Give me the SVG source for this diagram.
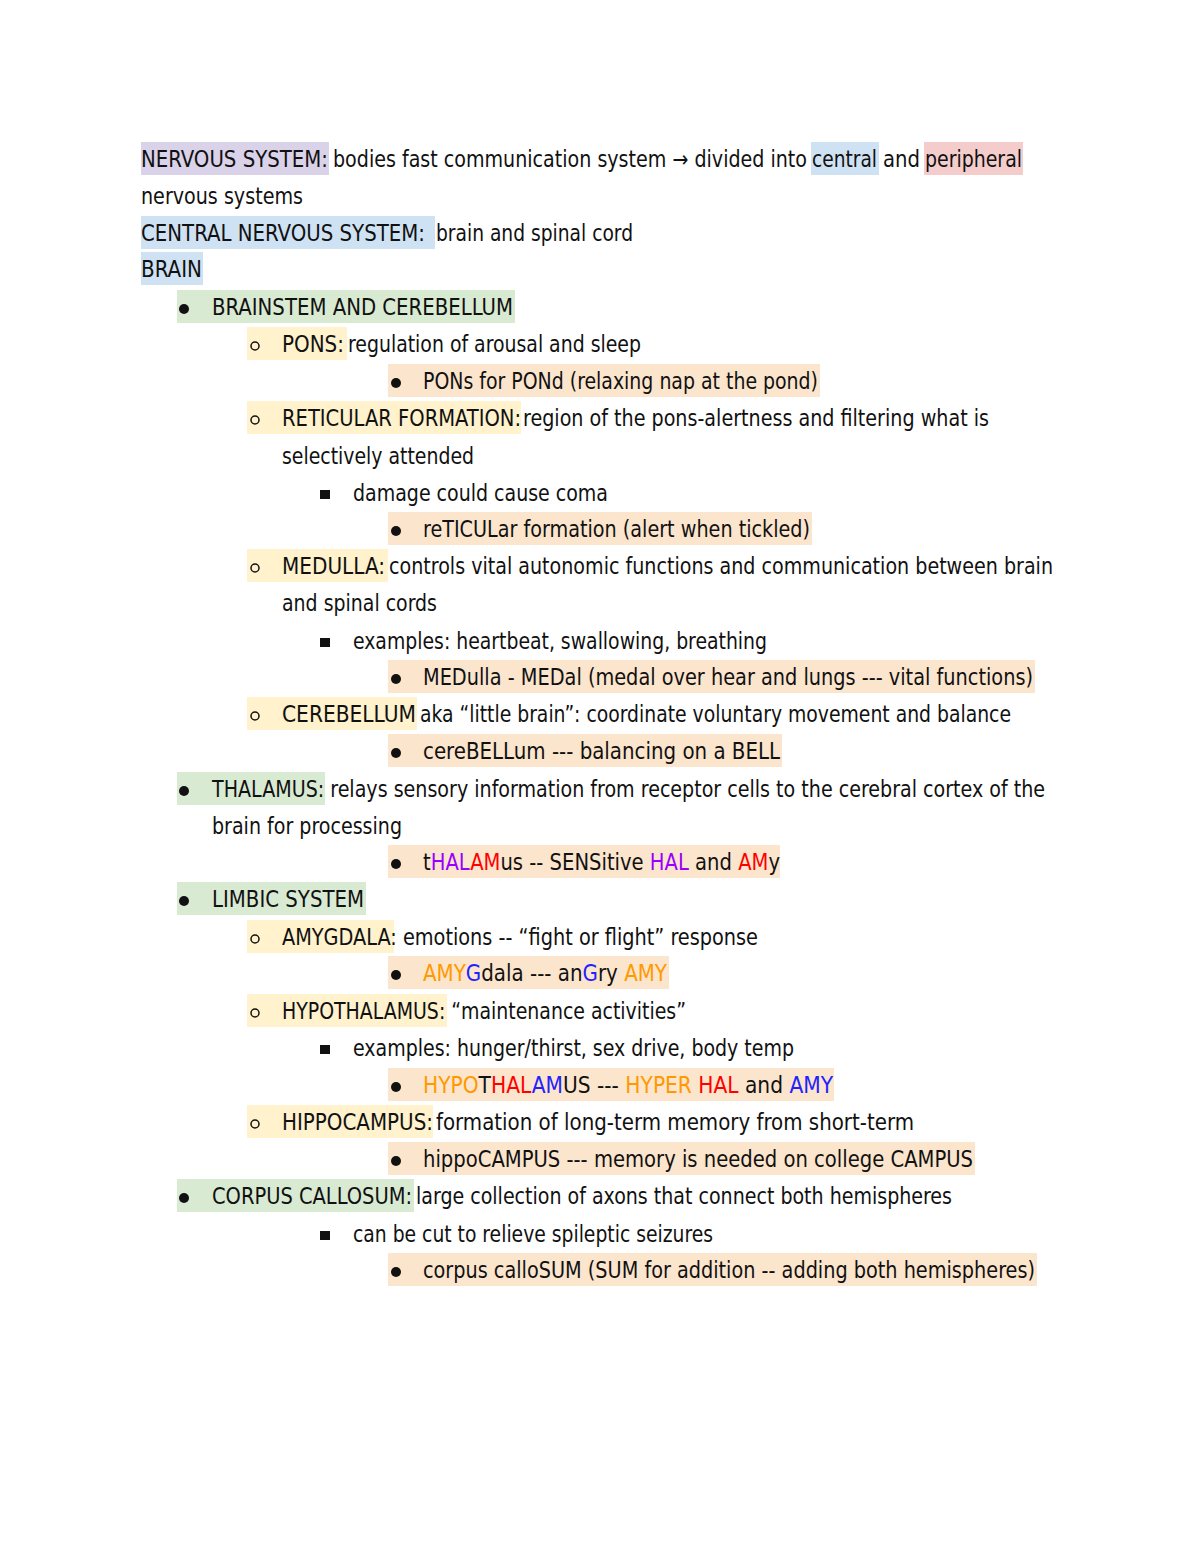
<svg xmlns="http://www.w3.org/2000/svg" width="1200" height="1553" viewBox="0 0 1200 1553">
<style>
text{font-family:"DejaVu Sans Condensed","Liberation Sans Narrow","Liberation Sans",sans-serif;font-size:23px;fill:#111}
.pu{fill:#d9d2e9}.bl{fill:#cfe2f3}.pk{fill:#f4cccc}.gr{fill:#d9ead3}.ye{fill:#fff2cc}.or{fill:#fce5cd}
.dot{fill:#111}.cir{fill:none;stroke:#111;stroke-width:1.5}
.cP{fill:#9900ff}.cR{fill:#ff0000}.cO{fill:#ff9900}.cB{fill:#2222ff}
</style>
<rect width="1200" height="1553" fill="#fff"/>
<g id="highlights">
<rect class="pu" x="141" y="142" width="188" height="33"/>
<rect class="bl" x="811" y="142" width="68" height="33"/>
<rect class="pk" x="924" y="142" width="99" height="33"/>
<rect class="bl" x="141" y="216" width="294" height="33"/>
<rect class="bl" x="141" y="252" width="62" height="33"/>
<rect class="gr" x="177" y="290" width="338" height="33"/>
<rect class="ye" x="247" y="327" width="100" height="33"/>
<rect class="or" x="388" y="364" width="432" height="33"/>
<rect class="ye" x="247" y="401" width="274" height="33"/>
<rect class="or" x="388" y="512" width="424" height="33"/>
<rect class="ye" x="247" y="549" width="141" height="33"/>
<rect class="or" x="388" y="660" width="647" height="33"/>
<rect class="ye" x="247" y="697" width="170" height="33"/>
<rect class="or" x="388" y="734" width="394" height="33"/>
<rect class="gr" x="177" y="772" width="148" height="33"/>
<rect class="or" x="388" y="845" width="392" height="33"/>
<rect class="gr" x="177" y="882" width="189" height="33"/>
<rect class="ye" x="247" y="920" width="147" height="33"/>
<rect class="or" x="388" y="956" width="281" height="33"/>
<rect class="ye" x="247" y="994" width="200" height="33"/>
<rect class="or" x="388" y="1068" width="446" height="33"/>
<rect class="ye" x="247" y="1105" width="186" height="33"/>
<rect class="or" x="388" y="1142" width="587" height="33"/>
<rect class="gr" x="177" y="1179" width="237" height="33"/>
<rect class="or" x="388" y="1253" width="649" height="33"/>
</g>
<g id="markers">
<circle class="dot" cx="184" cy="309" r="5"/>
<circle class="cir" cx="255" cy="346" r="4"/>
<circle class="dot" cx="396" cy="383" r="5"/>
<circle class="cir" cx="255" cy="420" r="4"/>
<rect class="dot" x="320" y="490" width="10" height="9"/>
<circle class="dot" cx="396" cy="531" r="5"/>
<circle class="cir" cx="255" cy="568" r="4"/>
<rect class="dot" x="320" y="638" width="10" height="9"/>
<circle class="dot" cx="396" cy="679" r="5"/>
<circle class="cir" cx="255" cy="716" r="4"/>
<circle class="dot" cx="396" cy="753" r="5"/>
<circle class="dot" cx="184" cy="791" r="5"/>
<circle class="dot" cx="396" cy="864" r="5"/>
<circle class="dot" cx="184" cy="901" r="5"/>
<circle class="cir" cx="255" cy="939" r="4"/>
<circle class="dot" cx="396" cy="975" r="5"/>
<circle class="cir" cx="255" cy="1013" r="4"/>
<rect class="dot" x="320" y="1045" width="10" height="9"/>
<circle class="dot" cx="396" cy="1087" r="5"/>
<circle class="cir" cx="255" cy="1124" r="4"/>
<circle class="dot" cx="396" cy="1161" r="5"/>
<circle class="dot" cx="184" cy="1198" r="5"/>
<rect class="dot" x="320" y="1231" width="10" height="9"/>
<circle class="dot" cx="396" cy="1272" r="5"/>
</g>
<g id="texts" lengthAdjust="spacingAndGlyphs">
<text x="141" y="167" textLength="187" lengthAdjust="spacingAndGlyphs">NERVOUS SYSTEM:</text>
<text x="333" y="167" textLength="474" lengthAdjust="spacingAndGlyphs">bodies fast communication system → divided into</text>
<text x="812" y="167" textLength="65" lengthAdjust="spacingAndGlyphs">central</text>
<text x="883" y="167" textLength="37" lengthAdjust="spacingAndGlyphs">and</text>
<text x="925" y="167" textLength="97" lengthAdjust="spacingAndGlyphs">peripheral</text>
<text x="141" y="204" textLength="162" lengthAdjust="spacingAndGlyphs">nervous systems</text>
<text x="141" y="241" textLength="284" lengthAdjust="spacingAndGlyphs">CENTRAL NERVOUS SYSTEM:</text>
<text x="436" y="241" textLength="197" lengthAdjust="spacingAndGlyphs">brain and spinal cord</text>
<text x="141" y="277" textLength="61" lengthAdjust="spacingAndGlyphs">BRAIN</text>
<text x="212" y="315" textLength="301" lengthAdjust="spacingAndGlyphs">BRAINSTEM AND CEREBELLUM</text>
<text x="282" y="352" textLength="62" lengthAdjust="spacingAndGlyphs">PONS:</text>
<text x="348" y="352" textLength="293" lengthAdjust="spacingAndGlyphs">regulation of arousal and sleep</text>
<text x="423" y="389" textLength="395" lengthAdjust="spacingAndGlyphs">PONs for PONd (relaxing nap at the pond)</text>
<text x="282" y="426" textLength="239" lengthAdjust="spacingAndGlyphs">RETICULAR FORMATION:</text>
<text x="523" y="426" textLength="466" lengthAdjust="spacingAndGlyphs">region of the pons-alertness and filtering what is</text>
<text x="282" y="464" textLength="192" lengthAdjust="spacingAndGlyphs">selectively attended</text>
<text x="353" y="501" textLength="255" lengthAdjust="spacingAndGlyphs">damage could cause coma</text>
<text x="423" y="537" textLength="387" lengthAdjust="spacingAndGlyphs">reTICULar formation (alert when tickled)</text>
<text x="282" y="574" textLength="103" lengthAdjust="spacingAndGlyphs">MEDULLA:</text>
<text x="389" y="574" textLength="664" lengthAdjust="spacingAndGlyphs">controls vital autonomic functions and communication between brain</text>
<text x="282" y="611" textLength="155" lengthAdjust="spacingAndGlyphs">and spinal cords</text>
<text x="353" y="649" textLength="414" lengthAdjust="spacingAndGlyphs">examples: heartbeat, swallowing, breathing</text>
<text x="423" y="685" textLength="610" lengthAdjust="spacingAndGlyphs">MEDulla - MEDal (medal over hear and lungs --- vital functions)</text>
<text x="282" y="722" textLength="134" lengthAdjust="spacingAndGlyphs">CEREBELLUM</text>
<text x="420" y="722" textLength="591" lengthAdjust="spacingAndGlyphs">aka “little brain”: coordinate voluntary movement and balance</text>
<text x="423" y="759" textLength="357" lengthAdjust="spacingAndGlyphs">cereBELLum --- balancing on a BELL</text>
<text x="212" y="797" textLength="833" lengthAdjust="spacingAndGlyphs">THALAMUS: relays sensory information from receptor cells to the cerebral cortex of the</text>
<text x="212" y="834" textLength="190" lengthAdjust="spacingAndGlyphs">brain for processing</text>
<text x="423" y="870" textLength="357" lengthAdjust="spacingAndGlyphs">t<tspan class="cP">HAL</tspan><tspan class="cR">AM</tspan>us -- SENSitive <tspan class="cP">HAL</tspan> and <tspan class="cR">AM</tspan>y</text>
<text x="212" y="907" textLength="152" lengthAdjust="spacingAndGlyphs">LIMBIC SYSTEM</text>
<text x="282" y="945" textLength="476" lengthAdjust="spacingAndGlyphs">AMYGDALA: emotions -- “fight or flight” response</text>
<text x="423" y="981" textLength="244" lengthAdjust="spacingAndGlyphs"><tspan class="cO">AMY</tspan><tspan class="cB">G</tspan>dala --- an<tspan class="cB">G</tspan>ry <tspan class="cO">AMY</tspan></text>
<text x="282" y="1019" textLength="404" lengthAdjust="spacingAndGlyphs">HYPOTHALAMUS: “maintenance activities”</text>
<text x="353" y="1056" textLength="441" lengthAdjust="spacingAndGlyphs">examples: hunger/thirst, sex drive, body temp</text>
<text x="423" y="1093" textLength="410" lengthAdjust="spacingAndGlyphs"><tspan class="cO">HYPO</tspan>T<tspan class="cR">HAL</tspan><tspan class="cB">AM</tspan>US --- <tspan class="cO">HYPER</tspan> <tspan class="cR">HAL</tspan> and <tspan class="cB">AMY</tspan></text>
<text x="282" y="1130" textLength="151" lengthAdjust="spacingAndGlyphs">HIPPOCAMPUS:</text>
<text x="436" y="1130" textLength="478" lengthAdjust="spacingAndGlyphs">formation of long-term memory from short-term</text>
<text x="423" y="1167" textLength="550" lengthAdjust="spacingAndGlyphs">hippoCAMPUS --- memory is needed on college CAMPUS</text>
<text x="212" y="1204" textLength="200" lengthAdjust="spacingAndGlyphs">CORPUS CALLOSUM:</text>
<text x="416" y="1204" textLength="536" lengthAdjust="spacingAndGlyphs">large collection of axons that connect both hemispheres</text>
<text x="353" y="1242" textLength="360" lengthAdjust="spacingAndGlyphs">can be cut to relieve spileptic seizures</text>
<text x="423" y="1278" textLength="612" lengthAdjust="spacingAndGlyphs">corpus calloSUM (SUM for addition -- adding both hemispheres)</text>
</g>
</svg>
